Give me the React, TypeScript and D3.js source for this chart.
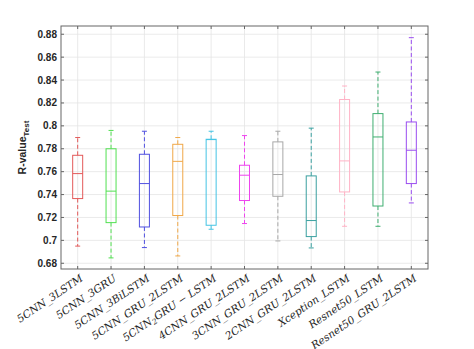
import React from "react";
import * as d3 from "d3";

const categories = [
  "5CNN_3LSTM", "5CNN_3GRU", "5CNN_3BiLSTM", "5CNN_GRU_2LSTM", "5CNN2GRU-LSTM",
  "4CNN_GRU_2LSTM", "3CNN_GRU_2LSTM", "2CNN_GRU_2LSTM", "Xception_LSTM",
  "Resnet50_LSTM", "Resnet50_GRU_2LSTM",
];
const whiskerLow = [0.695, 0.6847, 0.6937, 0.6864, 0.7097, 0.7147, 0.6995, 0.6934, 0.7123, 0.7123, 0.7327];
const q1 = [0.7365, 0.7155, 0.7117, 0.7217, 0.7132, 0.7348, 0.7385, 0.7033, 0.7423, 0.730, 0.7496];
const median = [0.7583, 0.743, 0.7496, 0.769, 0.788, 0.7569, 0.7575, 0.7173, 0.7694, 0.7903, 0.7787];
const q3 = [0.7743, 0.780, 0.7752, 0.7839, 0.7883, 0.7656, 0.786, 0.7563, 0.823, 0.8107, 0.8034];
const whiskerHigh = [0.7898, 0.796, 0.7953, 0.7898, 0.7953, 0.7915, 0.7953, 0.798, 0.8348, 0.847, 0.877];
const colors = ["#e35a5a", "#52e052", "#5050e0", "#f0a848", "#44c4e4", "#ee44ee", "#a8a8a8", "#3aa0a0", "#ffb3c6", "#3fae70", "#9a4cf0"];
const yTicks = [0.68, 0.7, 0.72, 0.74, 0.76, 0.78, 0.8, 0.82, 0.84, 0.86, 0.88];

const W = 474, H = 349;
const L = 61, R = 428, T = 26, B = 269;

export default function App() {
  const x = d3.scaleLinear().domain([0.5, 11.5]).range([L, R]);
  const y = d3.scaleLinear().domain([0.675, 0.8872]).range([B, T]);
  const bw = 10, cw = 5;
  const axisColor = "#666";
  const sans = "'Liberation Sans', Arial, Helvetica, sans-serif";
  const serif = "'DejaVu Serif', 'Liberation Serif', serif";
  return (
    <svg width={W} height={H} style={{ position: "absolute", left: 0, top: 0, background: "#fff" }}>
      <rect x={0} y={0} width={W} height={H} fill="#fff" />
      {yTicks.map((t) => (
        <line key={"gy" + t} x1={L} x2={R} y1={y(t)} y2={y(t)} stroke="#e4e4e4" strokeWidth={0.8} />
      ))}
      {categories.map((c, i) => (
        <line key={"gx" + i} x1={x(i + 1)} x2={x(i + 1)} y1={T} y2={B} stroke="#e4e4e4" strokeWidth={0.8} />
      ))}
      {categories.map((c, i) => {
        const cx = x(i + 1);
        const col = colors[i];
        return (
          <g key={"b" + i} stroke={col} fill="none" strokeWidth={1}>
            <line x1={cx} x2={cx} y1={y(q3[i])} y2={y(whiskerHigh[i])} strokeDasharray="4,2.5" />
            <line x1={cx} x2={cx} y1={y(q1[i])} y2={y(whiskerLow[i])} strokeDasharray="4,2.5" />
            <line x1={cx - cw / 2} x2={cx + cw / 2} y1={y(whiskerHigh[i])} y2={y(whiskerHigh[i])} />
            <line x1={cx - cw / 2} x2={cx + cw / 2} y1={y(whiskerLow[i])} y2={y(whiskerLow[i])} />
            <rect x={cx - bw / 2} y={y(q3[i])} width={bw} height={y(q1[i]) - y(q3[i])} />
            <line x1={cx - bw / 2} x2={cx + bw / 2} y1={y(median[i])} y2={y(median[i])} />
          </g>
        );
      })}
      <rect x={L} y={T} width={R - L} height={B - T} fill="none" stroke={axisColor} strokeWidth={1} />
      {yTicks.map((t) => (
        <g key={"yt" + t}>
          <line x1={L} x2={L + 3} y1={y(t)} y2={y(t)} stroke={axisColor} />
          <line x1={R} x2={R - 3} y1={y(t)} y2={y(t)} stroke={axisColor} />
          <text x={L - 4} y={y(t)} dy="0.35em" textAnchor="end" fontFamily={sans} fontWeight="bold" fontSize={10} fill="#262626">
            {d3.format("")(t)}
          </text>
        </g>
      ))}
      {categories.map((c, i) => (
        <g key={"xt" + i}>
          <line x1={x(i + 1)} x2={x(i + 1)} y1={B} y2={B - 3} stroke={axisColor} />
          <line x1={x(i + 1)} x2={x(i + 1)} y1={T} y2={T + 3} stroke={axisColor} />
          <text
            transform={`translate(${x(i + 1) + 4},${B + 8}) rotate(-34)`}
            textAnchor="end"
            dy="0.35em"
            fontFamily={serif}
            fontStyle="italic"
            fontSize={10.5}
            fill="#262626"
          >
            {i === 4 ? (
              <>
                5CNN<tspan fontSize={7.5} dy="2">2</tspan>
                <tspan dy="-2">GRU − LSTM</tspan>
              </>
            ) : (
              c
            )}
          </text>
        </g>
      ))}
      <text
        transform={`translate(26,${(T + B) / 2}) rotate(-90)`}
        textAnchor="middle"
        fontFamily={sans}
        fontWeight="bold"
        fontSize={10.5}
        fill="#262626"
      >
        R-value<tspan fontSize={8} dy="3">Test</tspan>
      </text>
    </svg>
  );
}
